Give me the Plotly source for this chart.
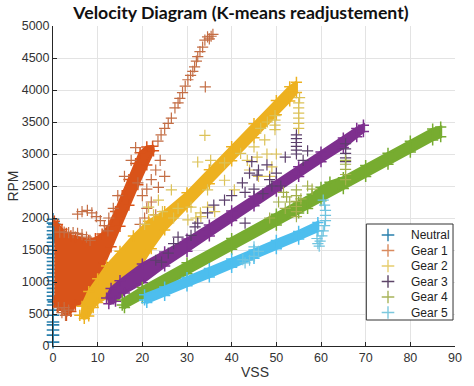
import plotly.graph_objects as go

# ---------------- data ----------------
series_names = ["Neutral", "Gear 1", "Gear 2", "Gear 3", "Gear 4", "Gear 5"]

# Neutral: column at VSS = 0
neutral_x = [0, 0, 0, 0, 0, 0, 0, 0, 0.2, 0, 0, 0, 0, 0, 0, 0, 0, 0, 0, 0, 0, 0, 0, 0, 0, 0, 0, 0, 0, 0, 0, 0.3, 0.3]
neutral_y = [60, 170, 250, 330, 375, 480, 560, 640, 690, 720, 780, 840, 900, 960, 1020, 1080, 1140, 1200, 1260, 1320,
             1380, 1440, 1500, 1560, 1620, 1680, 1740, 1800, 1860, 1920, 1980, 1900, 1700]

# Gear 1: dense region outline + scattered points
gear1_band_x = [0.3, 1, 2, 3, 4, 5, 7, 8.5, 10, 11.5, 13, 15, 17, 19, 21, 22.5, 22.3, 21, 19.5, 18.5, 17, 15.5, 14,
                12.5, 11, 9.5, 8, 6.5, 5, 4, 3, 2, 1, 0.3]
gear1_band_y = [700, 620, 560, 480, 540, 640, 700, 800, 1050, 1300, 1550, 1870, 2200, 2520, 2830, 3050, 3120, 3110,
                3020, 2850, 2600, 2350, 2100, 1880, 1750, 1680, 1650, 1680, 1700, 1720, 1760, 1820, 1900, 1950]
gear1_pts_x = [23.5, 24.2, 25, 25.8, 26.5, 27.3, 28, 28.4, 29, 29.6, 30.2, 30.8, 31.3, 31.7, 32.1, 32.4, 32.9, 33.5,
               34, 34.6, 35, 35.4, 35.8, 34.1,
               5.5, 6.5, 7.7, 8.7, 9.7, 10.6, 11.5, 12.3,
               1.5, 2.5, 3.5, 4.5, 5.5, 6.5, 7.5, 8.3,
               19, 20, 21, 22, 23, 23.6, 21, 22, 20.5, 19.5, 24, 22.5, 25, 23,
               2, 2.8, 3.5, 2.5, 1.2,
               12.5, 13.5, 14.5, 16, 17.5, 18.5]
gear1_pts_y = [3200, 3300, 3400, 3480, 3560, 3720, 3800, 3870, 3960, 4060, 4160, 4230, 4290, 4360, 4450, 4520, 4600,
               4670, 4780, 4830, 4800, 4840, 4870, 4050,
               2060, 2100, 2120, 2080, 2020, 1960, 1880, 1800,
               1780, 1780, 1770, 1770, 1760, 1740, 1700, 1650,
               2550, 2350, 2450, 2600, 2750, 2480, 2150, 2250, 2000, 1900, 2900, 1850, 2650, 2050,
               520, 480, 560, 600, 600,
               2000, 2150, 2350, 2650, 2900, 3100]

# Gear 2
gear2_band_x = [6.5, 8, 10, 12, 15, 18, 21.4, 25, 30, 35, 40, 45, 50, 53, 54.5,
                54.5, 53, 50, 45, 40, 35, 30, 25, 22, 20, 18, 16, 14, 12, 10, 9, 8, 7, 6]
gear2_band_y = [620, 850, 1050, 1250, 1480, 1720, 1950, 2100, 2394, 2754, 3114, 3474, 3834, 4050, 4120,
                3960, 3830, 3614, 3254, 2894, 2534, 2174, 1814, 1520, 1300, 1080, 960, 850, 760, 680, 600, 470, 430,
                480]
gear2_pts_x = [55, 55, 55, 55, 55, 55, 55.2, 49.7, 49.7, 49.7, 49.7,
               34, 35.3, 38.4, 38.4, 40.6, 34.6, 34.6, 33.1, 43.5, 45, 45.7, 47.4, 46.5, 48, 47.9, 49, 48.5, 50, 42,
               44, 46, 30.9, 32, 30.2, 33, 36.2, 23.6, 26.5, 21.4, 22.5, 24.5, 20.5, 28, 27, 32.4]
gear2_pts_y = [3400, 3480, 3560, 3640, 3720, 3800, 3880, 3380, 3450, 3530, 3600,
               3290, 2900, 2860, 2590, 2440, 2440, 2170, 2020, 2900, 3110, 2950, 3220, 3400, 3500, 3000, 2800, 2650,
               3000, 3010, 2750, 2650, 2170, 2000, 1970, 2080, 2100, 2280, 2440, 2170, 2050, 2100, 1900, 2150, 2000,
               2875]

# Gear 3
gear3_band_x = [12, 13, 15, 20, 25, 30, 35, 40, 45, 50, 55, 60, 65, 68, 69.5,
                69.5, 68, 65, 60, 55, 50, 45, 40, 35, 30, 25, 20, 16, 14, 12.5]
gear3_band_y = [750, 900, 1020, 1280, 1470, 1670, 1890, 2110, 2340, 2570, 2800, 3030, 3250, 3400, 3450,
                3350, 3270, 3100, 2880, 2650, 2420, 2190, 1960, 1720, 1480, 1250, 990, 830, 700, 660]
gear3_pts_x = [54.5, 54.5, 54.5, 54.5, 54.5, 54.5, 65.5, 65.5, 65.5, 65.5, 65.5,
               47.9, 45.7, 42.4, 38.4, 34.6, 32.4, 43, 31.8, 30.9, 25.8, 24.3, 23, 44, 46, 48.5, 49, 43, 45, 47, 50,
               52, 51, 44.5, 40, 36, 28, 27, 56, 57]
gear3_pts_y = [3000, 3060, 3120, 3180, 3240, 3300, 2880, 2940, 3010, 3080, 3160,
               2830, 2670, 2550, 2280, 2080, 1920, 1920, 1860, 1730, 1450, 1310, 1340, 2700, 2750, 2600, 2500, 2400,
               2450, 2380, 2700, 2950, 2500, 2880, 2350, 2200, 1700, 1600, 2900, 3050]

# Gear 4
gear4_band_x = [15.5, 20, 30, 40, 50, 55, 58, 60, 62, 65, 70, 75, 80, 85, 86.8,
                86.8, 85, 80, 75, 70, 65, 60, 57, 55, 50, 40, 30, 20, 16, 15.5]
gear4_band_y = [720, 915, 1300, 1680, 2060, 2250, 2370, 2480, 2560, 2630, 2820, 3010, 3200, 3390, 3420,
                3270, 3220, 3030, 2840, 2650, 2460, 2270, 2150, 2080, 1890, 1510, 1130, 750, 600, 640]
gear4_pts_x = [54.5, 54.5, 54.5, 54.5, 54.5, 54.5, 65.5, 65.5, 65.5, 65.5, 65.5,
               52.3, 51.6, 53, 55.5, 50.5, 52, 48.5, 57, 58]
gear4_pts_y = [2020, 2100, 2180, 2260, 2350, 2440, 2600, 2680, 2760, 2840, 2900,
               2330, 2400, 2250, 2300, 2250, 2150, 2000, 2500, 2450]

# Gear 5
gear5_band_x = [20.5, 25, 30, 35, 40, 45, 50, 55, 59.3,
                59.3, 55, 50, 45, 40, 35, 30, 25, 21, 20.5]
gear5_band_y = [800, 920, 1070, 1210, 1360, 1500, 1650, 1790, 1930,
                1800, 1670, 1520, 1370, 1230, 1080, 940, 790, 680, 720]
gear5_pts_x = [60.5, 60.8, 61, 61, 61, 60.8, 60.5, 60.2, 59.8, 59.6, 59.3, 59.1, 44, 45, 45, 43, 42.5, 46]
gear5_pts_y = [2280, 2200, 2120, 2040, 1960, 1880, 1800, 1720, 1640, 1560, 1600, 1680, 1340, 1400, 1550, 1300,
               1350, 1480]

x_ticks = [0, 10, 20, 30, 40, 50, 60, 70, 80, 90]
y_ticks = [0, 500, 1000, 1500, 2000, 2500, 3000, 3500, 4000, 4500, 5000]

# ---------------- styling ----------------
dense_colors = ["#1f7aae", "#D95319", "#EDB120", "#7E2F8E", "#77AC30", "#4DBEEE"]
sparse_colors = ["#2a80ad", "#c46e45", "#dcc258", "#5b3f6b", "#a3b04c", "#6fc4e0"]
legend_colors = ["#2a80ad", "#d98a5e", "#e6cd6e", "#5d4568", "#a8b45a", "#7cc8dd"]

FONT = "Liberation Sans, Arial, sans-serif"

fig = go.Figure()


def cross_marker(color, size=8, width=1.3):
    return dict(symbol="cross-thin", size=size, color=color, line=dict(width=width, color=color))


# Neutral
fig.add_trace(go.Scatter(x=neutral_x, y=neutral_y, mode="markers", name=series_names[0],
                         marker=cross_marker(sparse_colors[0], 9, 1.6), cliponaxis=False, showlegend=False))

bands = [(gear1_band_x, gear1_band_y, gear1_pts_x, gear1_pts_y),
         (gear2_band_x, gear2_band_y, gear2_pts_x, gear2_pts_y),
         (gear3_band_x, gear3_band_y, gear3_pts_x, gear3_pts_y),
         (gear4_band_x, gear4_band_y, gear4_pts_x, gear4_pts_y),
         (gear5_band_x, gear5_band_y, gear5_pts_x, gear5_pts_y)]

for i, (bx, by, px, py) in enumerate(bands, start=1):
    fig.add_trace(go.Scatter(x=bx, y=by, mode="lines+markers", fill="toself",
                             fillcolor=dense_colors[i], line=dict(color=dense_colors[i], width=3),
                             marker=cross_marker(dense_colors[i], 8, 1.5),
                             showlegend=False, hoverinfo="skip"))
    fig.add_trace(go.Scatter(x=px, y=py, mode="markers", name=series_names[i],
                             marker=cross_marker(sparse_colors[i], 8, 1.2), showlegend=False))

# ---- hand-built legend (reference rows are 16 px apart, tighter than Plotly's legend) ----
leg_left, leg_right, leg_top, leg_bottom = 371, 459, 224, 320   # pixel box
plot_l, plot_r, plot_t, plot_b = 53, 461, 26, 346
W, H = plot_r - plot_l, plot_b - plot_t


def px_x(p):
    return (p - plot_l) / W


def px_y(p):
    return (plot_b - p) / H


row_y = [235, 250.5, 266, 281.5, 297, 312.5]
box_x = [px_x(leg_left), px_x(leg_right), px_x(leg_right), px_x(leg_left), px_x(leg_left)]
box_y = [px_y(leg_bottom), px_y(leg_bottom), px_y(leg_top), px_y(leg_top), px_y(leg_bottom)]
fig.add_trace(go.Scatter(x=box_x, y=box_y, xaxis="x2", yaxis="y2", mode="lines", fill="toself",
                         fillcolor="white", line=dict(color="#333333", width=1),
                         showlegend=False, hoverinfo="skip", cliponaxis=False))
fig.add_trace(go.Scatter(x=[px_x(393)] * 6, y=[px_y(r) for r in row_y], xaxis="x2", yaxis="y2",
                         mode="markers", showlegend=False, hoverinfo="skip", cliponaxis=False,
                         marker=dict(symbol="cross-thin", size=9, color=legend_colors,
                                     line=dict(width=1.4, color=legend_colors))))

annotations = [
    dict(text="RPM", x=px_x(12), y=0.5, xref="paper", yref="paper", showarrow=False, textangle=-90,
         xanchor="center", yanchor="middle", font=dict(family=FONT, size=14, color="#333333")),
    dict(text="VSS", x=px_x(258), y=px_y(372), xref="paper", yref="paper", showarrow=False,
         xanchor="center", yanchor="middle", font=dict(family=FONT, size=14, color="#333333")),
]
for name, r in zip(series_names, row_y):
    annotations.append(dict(text=name, x=px_x(414), y=px_y(r), xref="paper", yref="paper", showarrow=False,
                            xanchor="left", yanchor="middle", font=dict(family=FONT, size=12, color="#222222")))

axis_common = dict(showgrid=True, gridcolor="#e3e3e3", gridwidth=1, zeroline=False,
                   showline=True, linecolor="#262626", linewidth=1, ticks="inside", ticklen=4,
                   tickcolor="#262626", tickfont=dict(family=FONT, size=12.5, color="#333333"),
                   mirror=False)

fig.update_layout(
    width=474, height=386,
    margin=dict(l=plot_l, r=474 - plot_r, t=plot_t, b=386 - plot_b),
    paper_bgcolor="white", plot_bgcolor="white",
    showlegend=False,
    hovermode=False,
    title=dict(text="<b>Velocity Diagram (K-means readjustement)</b>", x=241 / 474, xref="container",
               xanchor="center", y=1 - 13 / 386, yref="container", yanchor="middle",
               font=dict(family="Lato", size=17.7, color="#111111")),
    xaxis=dict(range=[0, 90], tickvals=x_ticks, **axis_common),
    yaxis=dict(range=[0, 5000], tickvals=y_ticks, **axis_common),
    xaxis2=dict(range=[0, 1], overlaying="x", anchor="y2", visible=False),
    yaxis2=dict(range=[0, 1], overlaying="y", anchor="x2", visible=False),
    annotations=annotations,
)

fig.write_html("out.html", config={"displayModeBar": False},
               post_script="document.body.style.margin='0px';")
